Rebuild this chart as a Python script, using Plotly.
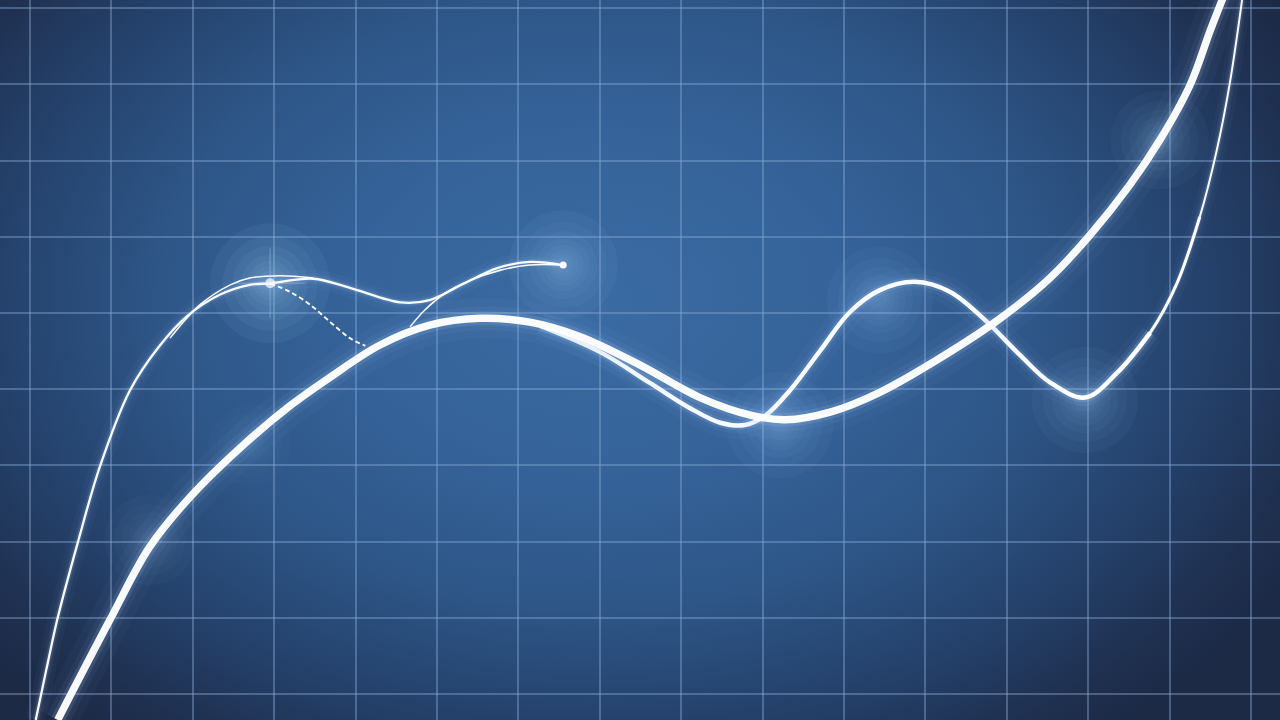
import base64
import plotly.graph_objects as go

# ---- data (grid units: x = column index, y = row index from the bottom) ----
main_x = [0.34, 0.98, 1.47, 1.97, 2.58, 3.19, 3.69, 4.30, 4.91, 5.53, 6.14, 6.76, 7.49, 8.23,
          8.85, 9.28, 9.83, 10.44, 11.18, 11.92, 12.53, 13.02, 13.51, 13.88, 14.25, 14.50, 14.72]
main_y = [-0.34, 0.97, 1.93, 2.59, 3.23, 3.78, 4.16, 4.58, 4.84, 4.93, 4.88, 4.69, 4.32, 3.89,
          3.66, 3.60, 3.70, 3.96, 4.41, 4.93, 5.46, 6.02, 6.68, 7.27, 7.99, 8.71, 9.31]

left_x = [0.07, 0.20, 0.34, 0.59, 0.86, 1.23, 1.60, 1.93, 2.33, 2.70, 2.95, 3.48, 3.93, 4.55,
          4.91, 5.32, 5.74, 6.14, 6.55]
left_y = [-0.34, 0.32, 1.00, 2.00, 2.99, 3.99, 4.58, 4.96, 5.24, 5.37, 5.39, 5.45, 5.33, 5.14,
          5.17, 5.38, 5.59, 5.67, 5.63]

outer_x = [1.72, 2.09, 2.46, 2.70, 3.07, 3.48]
outer_y = [4.67, 5.11, 5.37, 5.46, 5.49, 5.46]

dash_x = [2.95, 3.19, 3.44, 3.69, 3.93, 4.12]
dash_y = [5.39, 5.28, 5.11, 4.88, 4.67, 4.57]

loop_x = [4.67, 4.85, 5.10, 5.41, 5.77, 6.14, 6.55]
loop_y = [4.82, 5.04, 5.26, 5.43, 5.56, 5.63, 5.63]

wave_x = [6.27, 7.00, 7.62, 8.11, 8.48, 8.78, 9.03, 9.34, 9.71, 10.07, 10.44, 10.87, 11.30,
          11.73, 12.16, 12.53, 12.96, 13.35, 13.76]
wave_y = [4.83, 4.49, 4.08, 3.75, 3.56, 3.53, 3.65, 3.99, 4.51, 5.01, 5.30, 5.41, 5.28,
          4.91, 4.45, 4.09, 3.89, 4.21, 4.74]

mid_x = [12.53, 12.96, 13.35, 13.76, 14.09, 14.37]
mid_y = [4.09, 3.89, 4.21, 4.74, 5.39, 6.26]

tail_x = [12.53, 12.96, 13.35, 13.76, 14.09, 14.37, 14.58, 14.74, 14.89]
tail_y = [4.09, 3.89, 4.21, 4.74, 5.39, 6.26, 7.14, 8.02, 9.11]

glow_x = [2.95, 6.55, 10.44, 9.21, 12.96, 13.88, 1.47, 2.70]
glow_y = [5.39, 5.63, 5.17, 3.53, 3.86, 7.27, 2.02, 3.27]
glow_strength = [1.0, 0.8, 0.75, 0.75, 0.75, 0.6, 0.45, 0.3]

dot_x = [6.55]
dot_y = [5.63]

x_range = [-0.369, 15.356]
y_range = [-0.341, 9.108]

# ---- background gradient ----
svg = """<svg xmlns='http://www.w3.org/2000/svg' width='1280' height='720' viewBox='0 0 1280 720' preserveAspectRatio='none'>
<defs><radialGradient id='g' cx='600' cy='300' r='800' gradientUnits='userSpaceOnUse' gradientTransform='translate(600 300) scale(1 0.7) translate(-600 -300)'>
<stop offset='0' stop-color='#3a6ba2'/>
<stop offset='0.3' stop-color='#35639a'/>
<stop offset='0.55' stop-color='#2e5687'/>
<stop offset='0.75' stop-color='#25426c'/>
<stop offset='0.92' stop-color='#1f2f4e'/>
<stop offset='1' stop-color='#1c2a46'/>
</radialGradient></defs>
<rect width='1280' height='720' fill='url(#g)'/></svg>"""
bg_src = "data:image/svg+xml;base64," + base64.b64encode(svg.encode()).decode()

fig = go.Figure()


def glow_line(x, y, core, dash="solid", halo=True):
    if halo:
        for w, a in [(core * 4 + 10, 0.035), (core * 2.5 + 5, 0.06), (core * 1.6 + 2, 0.14)]:
            fig.add_trace(go.Scatter(x=x, y=y, mode="lines",
                                     line=dict(color=f"rgba(170,210,255,{a})", width=w,
                                               shape="spline", smoothing=1.0),
                                     hoverinfo="skip", showlegend=False))
    fig.add_trace(go.Scatter(x=x, y=y, mode="lines",
                             line=dict(color="rgba(255,255,255,0.97)", width=core,
                                       shape="spline", smoothing=1.0, dash=dash),
                             hoverinfo="skip", showlegend=False))


# glow spots (soft, many faint layers)
for i in range(len(glow_x)):
    s = glow_strength[i]
    for size in [120, 95, 75, 58, 45, 34, 25, 17]:
        fig.add_trace(go.Scatter(x=[glow_x[i]], y=[glow_y[i]], mode="markers",
                                 marker=dict(size=size * (0.55 + 0.45 * s),
                                             color=f"rgba(170,215,255,{0.06 * s})",
                                             line=dict(width=0)),
                                 hoverinfo="skip", showlegend=False))

glow_line(left_x, left_y, 2.3)
glow_line(outer_x, outer_y, 1.4, halo=False)
glow_line(dash_x, dash_y, 1.9, dash="5px,3px", halo=False)
glow_line(loop_x, loop_y, 1.6, halo=False)
glow_line(tail_x, tail_y, 2.0)
glow_line(mid_x, mid_y, 3.0, halo=False)
glow_line(wave_x, wave_y, 4.5)
glow_line(main_x, main_y, 7.5)

# lens flare streaks at the brightest glow + bright dot
fig.add_trace(go.Scatter(x=[glow_x[0]], y=[glow_y[0]], mode="markers",
                         marker=dict(symbol="cross-thin", size=50,
                                     line=dict(width=1.5, color="rgba(210,230,255,0.22)")),
                         hoverinfo="skip", showlegend=False))
fig.add_trace(go.Scatter(x=[glow_x[0]], y=[glow_y[0]], mode="markers",
                         marker=dict(size=10, color="rgba(245,250,255,0.75)", line=dict(width=0)),
                         hoverinfo="skip", showlegend=False))
fig.add_trace(go.Scatter(x=dot_x, y=dot_y, mode="markers",
                         marker=dict(size=7, color="white", line=dict(width=0)),
                         hoverinfo="skip", showlegend=False))

axis_common = dict(showticklabels=False, zeroline=False, showline=False, ticks="",
                   showgrid=True, gridcolor="rgba(135,170,215,0.42)", gridwidth=1.5,
                   dtick=1, tick0=0, fixedrange=True)
fig.update_layout(
    width=1280, height=720,
    margin=dict(l=0, r=0, t=0, b=0),
    paper_bgcolor="#1e2d4a",
    plot_bgcolor="rgba(0,0,0,0)",
    xaxis=dict(range=x_range, **axis_common),
    yaxis=dict(range=y_range, **axis_common),
    images=[dict(source=bg_src, xref="paper", yref="paper", x=0, y=1, sizex=1, sizey=1,
                 sizing="stretch", layer="below", xanchor="left", yanchor="top")],
    showlegend=False,
)

fig.write_html("out.html", config={"displayModeBar": False},
               post_script="document.body.style.margin='0';document.body.style.overflow='hidden';")
